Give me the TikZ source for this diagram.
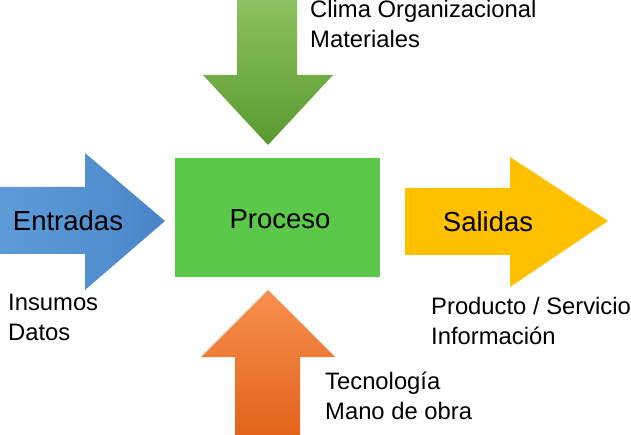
\documentclass[tikz,border=0pt]{standalone}
\usepackage{fontspec}
\setmainfont{Liberation Sans}
\definecolor{blueA}{HTML}{5E9CD8}\definecolor{blueB}{HTML}{4A86C8}
\definecolor{greenR}{HTML}{5CC84A}
\definecolor{greenA}{HTML}{8CC060}\definecolor{greenB}{HTML}{5A9A30}
\definecolor{orA}{HTML}{F79050}\definecolor{orB}{HTML}{E2641A}
\definecolor{yel}{HTML}{FFC000}
\begin{document}
\begin{tikzpicture}[x=1pt,y=-1pt,
  lbl/.style={font=\fontsize{23.8}{30}\selectfont,align=left,anchor=north west,inner sep=0pt},
  big/.style={font=\fontsize{27.5}{30}\selectfont,inner sep=0pt}]
\useasboundingbox (0,0) rectangle (631,435);
% blue arrow
\shade[left color=blueA,right color=blueB] (0,187)--(85,187)--(85,153)--(165,221)--(85,290)--(85,254)--(0,254)--cycle;
\node[big] (in) at (68,221) {Entradas};
% process
\fill[greenR] (175,158) rectangle (380,277);
\node[big] (proc) at (280,219) {Proceso};
% green arrow
\shade[top color=greenA,bottom color=greenB] (237,0)--(297,0)--(297,75)--(333,75)--(268,145)--(203,75)--(237,75)--cycle;
% orange arrow
\shade[top color=orA,bottom color=orB] (268,290)--(335,357)--(300,357)--(300,435)--(235,435)--(235,357)--(201,357)--cycle;
% yellow arrow
\fill[yel] (405,188)--(510,188)--(510,157)--(608,221)--(510,287)--(510,255)--(405,255)--cycle;
\node[big] (out) at (488,222) {Salidas};
% labels
\node[lbl] (t1) at (310,0) {Clima Organizacional\\Materiales};
\node[lbl] (t2) at (8,294) {Insumos\\Datos};
\node[lbl] (t3) at (431,297) {Producto / Servicio\\Información};
\node[lbl] (t4) at (325,372) {Tecnología\\Mano de obra};
\end{tikzpicture}
\end{document}
